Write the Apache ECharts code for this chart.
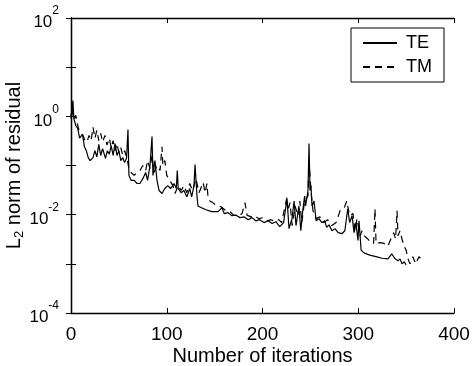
<!DOCTYPE html>
<html>
<head>
<meta charset="utf-8">
<script src="https://cdn.jsdelivr.net/npm/echarts@6/dist/echarts.min.js"></script>
<style>html,body{margin:0;padding:0;background:#fff}#c{width:474px;height:366px}</style>
</head>
<body>
<div id="c"></div>
<script>
// Tick labels
const xTicks = [0, 100, 200, 300, 400];
const yTickExponents = [-4, -2, 0, 2];

// TE (solid) – iteration number and L2 norm of residual
const teIter = [0,1,2,3,5,7,9,12,14,16,18,20,23,25,27,29,31,33,36,38,40,42,44,46,48,50,52,54,56,58,59.5,60.5,62.7,66,69,72,75,78,80,82.5,84.6,85.6,87.7,89.8,92,95,98,101,104,107.6,110,111,112,115,118,121,124,126,128.5,129.5,131.6,132.6,135.8,141,147,153.5,157.7,160,164,168,172,176.5,181,185,189,193,197,201.6,206,210,214,218,222,225.6,227.7,230.8,233,235,238,240,242,244,245,247.5,248.6,249.6,250.6,251.7,253.8,256,259,262,265,267,269.5,272.6,275.7,279,283,286,289,291,293.5,295.6,297.6,299.7,300.8,303,306,312,318.5,325,331,335,338,341.5,343.6,345.7,348,350];
const teVal = [1.05,1.3,2.1,0.9,0.65,0.57,0.36,0.43,0.24,0.2,0.145,0.126,0.145,0.2,0.15,0.27,0.16,0.22,0.14,0.2,0.17,0.25,0.16,0.28,0.16,0.2,0.125,0.145,0.115,0.14,0.54,0.063,0.05,0.05,0.043,0.043,0.054,0.072,0.05,0.1,0.39,0.063,0.126,0.05,0.031,0.027,0.034,0.039,0.034,0.043,0.034,0.079,0.034,0.028,0.031,0.023,0.034,0.023,0.039,0.105,0.024,0.015,0.014,0.0126,0.0115,0.0115,0.0138,0.0105,0.011,0.0095,0.0098,0.0087,0.009,0.0079,0.0087,0.0075,0.0079,0.0069,0.0075,0.0066,0.0072,0.0057,0.0069,0.021,0.0052,0.0083,0.019,0.006,0.015,0.0047,0.012,0.024,0.015,0.031,0.28,0.031,0.039,0.015,0.019,0.0075,0.0083,0.0069,0.0075,0.0055,0.0062,0.0047,0.0052,0.0043,0.0041,0.0047,0.0132,0.0069,0.0095,0.0043,0.0069,0.003,0.0075,0.0019,0.00167,0.0015,0.0014,0.0013,0.00126,0.0016,0.0013,0.00115,0.00126,0.001,0.0011,0.00095];

// TM (dashed)
const tmIter = [0,1,3,5,7,9,12.5,14.6,16.7,18.8,21,23,25,27,29,31,33,35.5,37.6,40,42,44,46,48,50,52,54,56,58.5,60.5,62.7,66,69,72,75,78,80,82.5,84.6,86.7,89.8,93,95,96,98,100,103,106.5,108.6,112,115,118,121,124,127,130.5,133.7,138,140,142,143,145,148,152.5,156.7,162,166,170,174,178.6,181.7,183.8,188,192,196,200.5,204.7,209,213,217,220,223.5,225.6,226.6,228.7,231,234,237,239,241,244,247.5,248.6,250.6,252.7,256,260,264,268,272.6,276.8,281,285,288,291,294.5,296.6,298.7,301.8,304,307,310,313,316,317.5,318.6,322.7,327,331,334,337,339,340.5,341.5,343.6,345.7,347.8,350,352,354,357,360,363.4,365.5];
const tmVal = [0.9,1.45,0.83,1.05,0.65,0.47,0.41,0.32,0.3,0.41,0.32,0.6,0.36,0.52,0.32,0.45,0.3,0.41,0.26,0.36,0.23,0.32,0.2,0.28,0.18,0.23,0.16,0.2,0.14,0.087,0.072,0.063,0.072,0.079,0.1,0.079,0.126,0.087,0.16,0.072,0.1,0.079,0.24,0.1,0.126,0.063,0.05,0.039,0.027,0.039,0.031,0.039,0.028,0.043,0.031,0.054,0.028,0.045,0.028,0.043,0.024,0.019,0.0176,0.015,0.0145,0.012,0.0115,0.0098,0.0095,0.0105,0.0175,0.0098,0.009,0.0095,0.0083,0.0087,0.0075,0.0079,0.0072,0.0079,0.0069,0.015,0.023,0.012,0.0176,0.006,0.015,0.0095,0.019,0.0069,0.019,0.024,0.126,0.031,0.012,0.0083,0.009,0.0069,0.0079,0.006,0.0069,0.012,0.0132,0.019,0.0095,0.0105,0.0047,0.0083,0.0037,0.0047,0.0036,0.0032,0.0027,0.0026,0.0132,0.0026,0.0027,0.0026,0.0023,0.0032,0.0043,0.0032,0.012,0.0037,0.0047,0.0032,0.0023,0.0019,0.00126,0.001,0.0014,0.001,0.0014,0.00126];

const FONT = 'Liberation Sans, Arial, Helvetica, sans-serif';
const pairs = (xs, ys) => xs.map((x, i) => [x, ys[i]]);

const chart = echarts.init(document.getElementById('c'), null, {renderer: 'canvas'});
const axisLine = {show: true, lineStyle: {color: '#000', width: 1.3}};
const tick = {show: true, inside: true, length: 5, lineStyle: {color: '#000', width: 1}};

chart.setOption({
  animation: false,
  backgroundColor: '#fff',
  textStyle: {fontFamily: FONT},
  grid: {left: 71, right: 20, top: 18, bottom: 53, containLabel: false, outerBoundsMode: 'none'},
  legend: {
    orient: 'vertical', right: 30, top: 28,
    data: ['TE', 'TM'],
    borderColor: '#000', borderWidth: 1, padding: [6, 12, 6, 11],
    itemWidth: 34, itemHeight: 12, itemGap: 6,
    itemStyle: {opacity: 0},
    textStyle: {fontFamily: FONT, fontSize: 18, color: '#000', padding: [0, 0, 0, 4]},
    backgroundColor: '#fff'
  },
  xAxis: [{
    type: 'value', min: 0, max: 400, interval: 100,
    axisLine: axisLine, axisTick: tick, splitLine: {show: false},
    axisLabel: {color: '#000', fontSize: 19, fontFamily: FONT, margin: 12,
      formatter: v => xTicks.includes(v) ? String(v) : ''},
    name: 'Number of iterations', nameLocation: 'middle', nameGap: 33, nameMoveOverlap: false,
    nameTextStyle: {color: '#000', fontSize: 20, fontFamily: FONT}
  }, {
    type: 'value', min: 0, max: 400, interval: 100, position: 'top',
    axisLine: axisLine, axisTick: tick, axisLabel: {show: false}, splitLine: {show: false}
  }],
  yAxis: [{
    type: 'log', logBase: 10, min: 1e-4, max: 1e2, interval: 1,
    axisLine: axisLine, axisTick: tick, splitLine: {show: false}, minorTick: {show: false},
    axisLabel: {
      color: '#000', margin: 12, fontFamily: FONT,
      formatter: v => {
        const e = Math.round(Math.log10(v));
        return yTickExponents.includes(e) ? '{b|10}{s|' + e + '}' : '';
      },
      rich: {
        b: {fontSize: 17, fontFamily: FONT, color: '#000', verticalAlign: 'bottom', lineHeight: 26},
        s: {fontSize: 12, fontFamily: FONT, color: '#000', verticalAlign: 'top', lineHeight: 26, padding: [0, 0, 12, 0]}
      }
    },
    name: '{b|L}{s|2}{b| norm of residual}', nameLocation: 'middle', nameGap: 45, nameRotate: 90,
    nameMoveOverlap: false,
    nameTextStyle: {
      rich: {
        b: {fontSize: 20, fontFamily: FONT, color: '#000'},
        s: {fontSize: 13, fontFamily: FONT, color: '#000', padding: [10, 0, 0, 0]}
      }
    }
  }, {
    type: 'log', logBase: 10, min: 1e-4, max: 1e2, interval: 1, position: 'right',
    axisLine: axisLine, axisTick: tick, axisLabel: {show: false}, splitLine: {show: false}
  }],
  series: [{
    name: 'TE', type: 'line', showSymbol: false, symbol: 'none',
    data: pairs(teIter, teVal),
    lineStyle: {color: '#000', width: 1.2, type: 'solid'},
    itemStyle: {color: '#000'}
  }, {
    name: 'TM', type: 'line', showSymbol: false, symbol: 'none',
    data: pairs(tmIter, tmVal),
    lineStyle: {color: '#000', width: 1.2, type: [7, 5]},
    itemStyle: {color: '#000'}
  }]
});
</script>
</body>
</html>
